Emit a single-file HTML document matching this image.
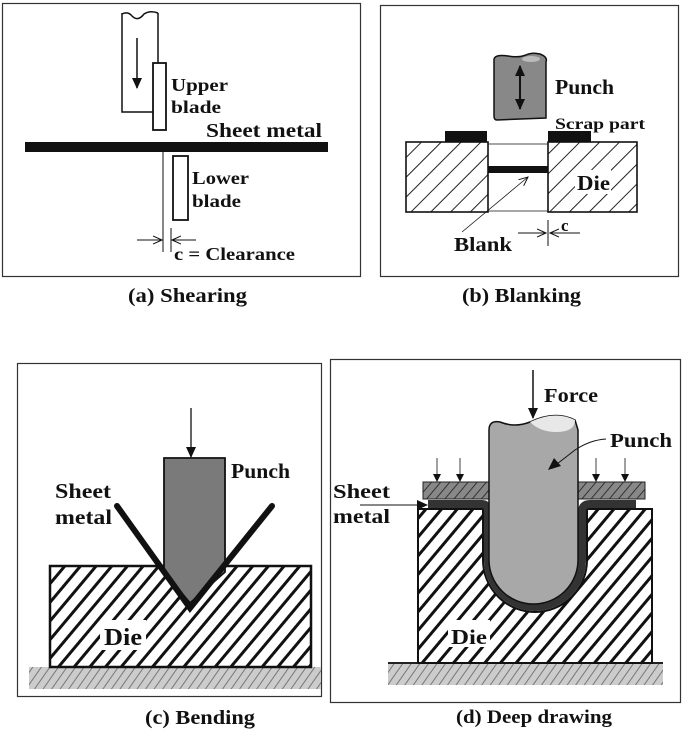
<!DOCTYPE html>
<html><head><meta charset="utf-8"><style>
html,body{margin:0;padding:0;background:#fff;}
svg{display:block;}
text{font-family:"Liberation Serif",serif;font-weight:bold;fill:#111;}
</style></head><body>
<svg width="685" height="738" viewBox="0 0 685 738" xmlns="http://www.w3.org/2000/svg">
<defs>
<pattern id="h1" patternUnits="userSpaceOnUse" width="14" height="14" patternTransform="rotate(45)">
<rect x="6" y="0" width="1" height="14" fill="#222"/></pattern>
<pattern id="h2" patternUnits="userSpaceOnUse" width="12" height="12" patternTransform="rotate(40)">
<rect x="4" y="0" width="3" height="12" fill="#111"/></pattern>
<pattern id="h3" patternUnits="userSpaceOnUse" width="7" height="7" patternTransform="rotate(35)">
<rect x="3" y="0" width="1" height="7" fill="#777"/></pattern>
<pattern id="h4" patternUnits="userSpaceOnUse" width="7" height="7" patternTransform="rotate(40)">
<rect width="7" height="7" fill="#888"/><rect x="3" y="0" width="1" height="7" fill="#333"/></pattern>
<marker id="ar" markerWidth="8" markerHeight="8" refX="7" refY="4" orient="auto" markerUnits="userSpaceOnUse"><path d="M0,0 L8,4 L0,8 Z" fill="#111"/></marker>
<marker id="ar2" markerWidth="12" markerHeight="12" refX="10" refY="6" orient="auto" markerUnits="userSpaceOnUse"><path d="M0,1 L11,6 L0,11 Z" fill="#111"/></marker>
<marker id="ao" markerWidth="10" markerHeight="10" refX="9" refY="5" orient="auto" markerUnits="userSpaceOnUse"><path d="M0,1 L9,5 L0,9" fill="none" stroke="#111" stroke-width="1"/></marker>
</defs>

<!-- Panel a -->
<rect x="2.5" y="3.5" width="358" height="273" fill="none" stroke="#333" stroke-width="1.2"/>
<path d="M122,13 L122,112 L153,112 M158,63 L158,13" fill="none" stroke="#111" stroke-width="1.5"/>
<path d="M122,14 q6,-3 10,2 q6,6 12,-2 q6,-4 14,-1" fill="none" stroke="#111" stroke-width="1.5"/>
<rect x="153" y="63" width="13" height="67" fill="#fff" stroke="#111" stroke-width="1.8"/>
<line x1="137" y1="38" x2="137" y2="88" stroke="#111" stroke-width="1.5" marker-end="url(#ar2)"/>
<text x="171" y="91" font-size="18" textLength="57" lengthAdjust="spacingAndGlyphs">Upper</text>
<text x="171" y="113" font-size="18" textLength="50" lengthAdjust="spacingAndGlyphs">blade</text>
<rect x="25" y="142" width="303" height="10" fill="#111"/>
<text x="206" y="137" font-size="20" textLength="116" lengthAdjust="spacingAndGlyphs">Sheet metal</text>
<rect x="173" y="156" width="15" height="64" fill="#fff" stroke="#111" stroke-width="1.8"/>
<text x="192" y="184" font-size="18" textLength="57" lengthAdjust="spacingAndGlyphs">Lower</text>
<text x="192" y="207" font-size="18" textLength="49" lengthAdjust="spacingAndGlyphs">blade</text>
<line x1="163" y1="152" x2="163" y2="252" stroke="#111" stroke-width="1"/>
<line x1="171" y1="228" x2="171" y2="252" stroke="#111" stroke-width="1"/>
<line x1="137" y1="240" x2="162" y2="240" stroke="#111" stroke-width="1" marker-end="url(#ao)"/>
<line x1="196" y1="240" x2="172" y2="240" stroke="#111" stroke-width="1" marker-end="url(#ao)"/>
<text x="174" y="260" font-size="18" textLength="121" lengthAdjust="spacingAndGlyphs">c = Clearance</text>
<text x="128" y="302" font-size="20" textLength="119" lengthAdjust="spacingAndGlyphs">(a) Shearing</text>

<!-- Panel b -->
<rect x="380.5" y="5.5" width="298" height="271" fill="none" stroke="#333" stroke-width="1.2"/>
<path d="M494,60 q0,-6 14,-4 q10,2 18,-1 q6,-3 14,-1 q8,3 6,8 L546,118 L497,120 Q494,120 494,116 Z" fill="#888" stroke="#111" stroke-width="1.5"/>
<ellipse cx="531" cy="59" rx="9" ry="3" fill="#bbb"/>
<line x1="520" y1="86" x2="520" y2="66" stroke="#111" stroke-width="2" marker-end="url(#ar2)"/>
<line x1="520" y1="86" x2="520" y2="109" stroke="#111" stroke-width="2" marker-end="url(#ar2)"/>
<text x="555" y="94" font-size="21" textLength="59" lengthAdjust="spacingAndGlyphs">Punch</text>
<text x="555" y="129" font-size="16" textLength="90" lengthAdjust="spacingAndGlyphs">Scrap part</text>
<rect x="445" y="131" width="42" height="11" fill="#111"/>
<rect x="548" y="131" width="43" height="11" fill="#111"/>
<rect x="406" y="142" width="82" height="70" fill="url(#h1)" stroke="#111" stroke-width="1.6"/>
<rect x="548" y="142" width="89" height="70" fill="url(#h1)" stroke="#111" stroke-width="1.6"/>
<line x1="488" y1="144" x2="548" y2="144" stroke="#111" stroke-width="0.8"/>
<line x1="488" y1="211" x2="548" y2="211" stroke="#111" stroke-width="0.8"/>
<rect x="488" y="166" width="60" height="7" fill="#111"/>
<rect x="575" y="170" width="36" height="24" fill="#fff"/>
<text x="577" y="190" font-size="21" textLength="33" lengthAdjust="spacingAndGlyphs">Die</text>
<line x1="462" y1="232" x2="528" y2="177" stroke="#111" stroke-width="0.8" marker-end="url(#ao)"/>
<text x="454" y="251" font-size="20" textLength="58" lengthAdjust="spacingAndGlyphs">Blank</text>
<line x1="548" y1="220" x2="548" y2="246" stroke="#111" stroke-width="1"/>
<line x1="518" y1="233" x2="546" y2="233" stroke="#111" stroke-width="1" marker-end="url(#ao)"/>
<line x1="580" y1="233" x2="550" y2="233" stroke="#111" stroke-width="1" marker-end="url(#ao)"/>
<text x="561" y="231" font-size="17">c</text>
<text x="462" y="302" font-size="20" textLength="119" lengthAdjust="spacingAndGlyphs">(b) Blanking</text>

<!-- Panel c -->
<rect x="17.5" y="363.5" width="304" height="333" fill="none" stroke="#333" stroke-width="1.2"/>
<rect x="29" y="667" width="292" height="22" fill="#ccc"/>
<rect x="29" y="667" width="292" height="22" fill="url(#h3)"/>
<rect x="50" y="566" width="261" height="101" fill="url(#h2)" stroke="#111" stroke-width="2.5"/>
<polygon points="164,458 225,458 225,572 190,603 164,572" fill="#7a7a7a" stroke="#111" stroke-width="1.8"/>
<polyline points="117,506 190,608 272,506" fill="none" stroke="#111" stroke-width="6" stroke-linecap="round" stroke-linejoin="miter"/>
<line x1="191" y1="408" x2="191" y2="457" stroke="#111" stroke-width="1.3" marker-end="url(#ar2)"/>
<text x="231" y="478" font-size="21" textLength="59" lengthAdjust="spacingAndGlyphs">Punch</text>
<text x="55" y="498" font-size="21" textLength="56" lengthAdjust="spacingAndGlyphs">Sheet</text>
<text x="55" y="524" font-size="21" textLength="57" lengthAdjust="spacingAndGlyphs">metal</text>
<rect x="100" y="620" width="46" height="30" fill="#fff"/>
<text x="104" y="645" font-size="24" textLength="38" lengthAdjust="spacingAndGlyphs">Die</text>
<text x="145" y="724" font-size="20" textLength="110" lengthAdjust="spacingAndGlyphs">(c) Bending</text>

<!-- Panel d -->
<rect x="330.5" y="359.5" width="350" height="343" fill="none" stroke="#333" stroke-width="1.2"/>
<rect x="388" y="663" width="275" height="22" fill="#ccc"/>
<rect x="388" y="663" width="275" height="22" fill="url(#h3)"/>
<line x1="388" y1="663" x2="663" y2="663" stroke="#222" stroke-width="2"/>
<path d="M418,509 L483,509 L483,560 A52,52 0 0 0 587,560 L587,509 L652,509 L652,663 L418,663 Z" fill="url(#h2)" stroke="#111" stroke-width="2"/>
<rect x="423" y="482" width="67" height="17" fill="url(#h4)" stroke="#222" stroke-width="1"/>
<rect x="577" y="482" width="68" height="17" fill="url(#h4)" stroke="#222" stroke-width="1"/>
<path d="M428,504 L482,504 Q488,504 488,512 L488,560 A47,47 0 0 0 582,560 L582,512 Q582,504 590,504 L636,504" fill="none" stroke="#333" stroke-width="8"/>
<path d="M489,430 Q489,420 500,422 Q515,428 530,422 Q555,410 575,420 L578,430 L578,560 A44.5,44 0 0 1 489,560 Z" fill="#a8a8a8" stroke="#111" stroke-width="1.5"/>
<path d="M530,422 Q555,410 575,420 Q575,432 556,432 Q540,432 530,422 Z" fill="#e8e8e8"/>
<line x1="533" y1="370" x2="533" y2="418" stroke="#111" stroke-width="1.5" marker-end="url(#ar2)"/>
<text x="544" y="402" font-size="20" textLength="54" lengthAdjust="spacingAndGlyphs">Force</text>
<text x="610" y="447" font-size="20" textLength="62" lengthAdjust="spacingAndGlyphs">Punch</text>
<path d="M606,439 Q590,440 575,450 L557,464" fill="none" stroke="#111" stroke-width="1"/>
<path d="M548,470 L554,458 L561,466 Z" fill="#111"/>
<line x1="437" y1="458" x2="437" y2="481" stroke="#111" stroke-width="0.8" marker-end="url(#ar)"/>
<line x1="460" y1="458" x2="460" y2="481" stroke="#111" stroke-width="0.8" marker-end="url(#ar)"/>
<line x1="596" y1="458" x2="596" y2="481" stroke="#111" stroke-width="0.8" marker-end="url(#ar)"/>
<line x1="625" y1="458" x2="625" y2="481" stroke="#111" stroke-width="0.8" marker-end="url(#ar)"/>
<text x="333" y="498" font-size="20" textLength="57" lengthAdjust="spacingAndGlyphs">Sheet</text>
<text x="333" y="523" font-size="20" textLength="57" lengthAdjust="spacingAndGlyphs">metal</text>
<line x1="360" y1="505" x2="427" y2="505" stroke="#111" stroke-width="1" marker-end="url(#ar2)"/>
<rect x="448" y="620" width="42" height="27" fill="#fff"/>
<text x="451" y="644" font-size="21" textLength="36" lengthAdjust="spacingAndGlyphs">Die</text>
<text x="456" y="723" font-size="19" textLength="156" lengthAdjust="spacingAndGlyphs">(d) Deep drawing</text>
</svg>
</body></html>
